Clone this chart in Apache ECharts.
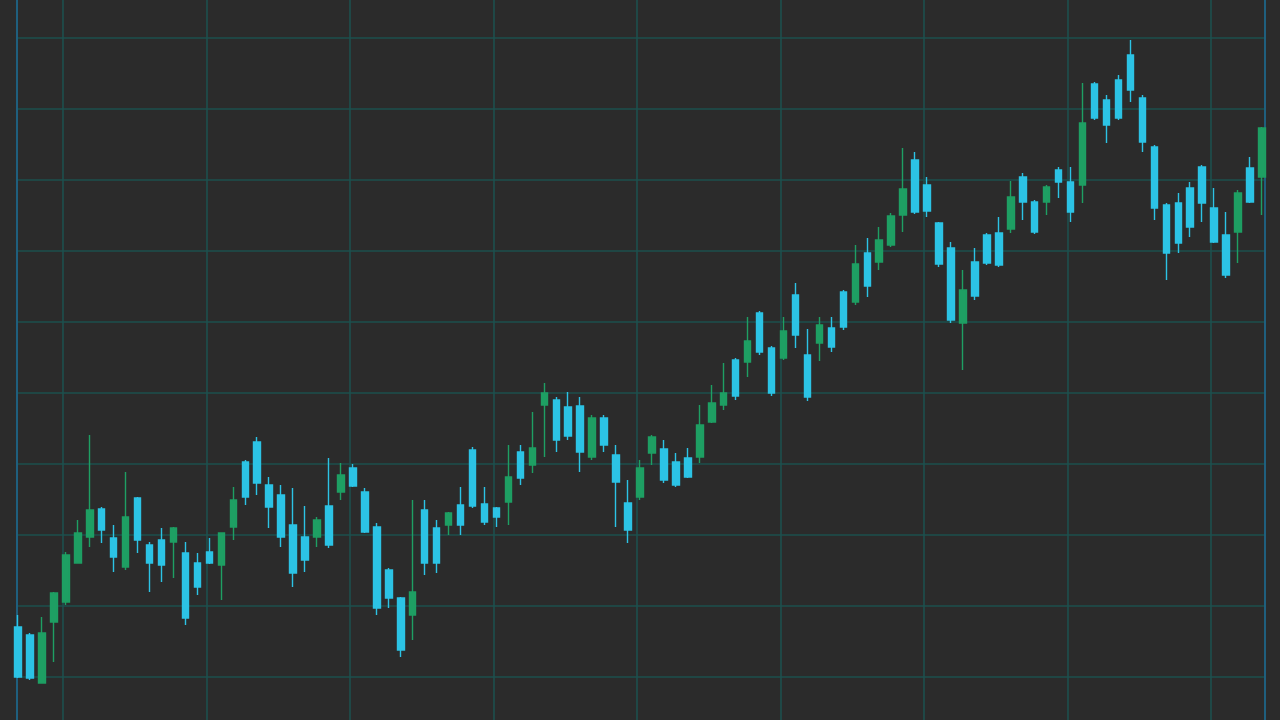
<!DOCTYPE html>
<html>
<head>
<meta charset="utf-8">
<style>
  html, body { margin: 0; padding: 0; background: #2b2b2b; }
  #chart { width: 1280px; height: 720px; }
</style>
<script src="https://cdn.jsdelivr.net/npm/echarts@6/dist/echarts.min.js"></script>
</head>
<body>
<div id="chart"></div>
<script>
// ---- data ----
const opens = [
  12.1, 11.3, 6.5, 12.6, 14.6, 18.5, 21.1, 23.9, 21.0, 18.1,
  25.0, 20.3, 20.8, 20.6, 19.5, 18.5, 19.6, 18.3, 22.1, 28.6,
  30.6, 26.3, 25.3, 22.3, 21.1, 21.1, 24.2, 25.6, 28.0, 25.6,
  22.1, 17.8, 15.0, 13.3, 23.8, 22.0, 22.3, 24.3, 29.8, 24.4,
  24.0, 24.6, 29.6, 28.3, 34.3, 34.8, 34.1, 34.2, 29.1, 33.0,
  29.3, 24.5, 25.1, 29.5, 29.9, 28.6, 29.0, 29.1, 32.6, 34.3,
  38.8, 38.6, 43.5, 40.0, 39.0, 45.3, 39.3, 40.5, 42.0, 45.6,
  44.6, 49.5, 48.6, 50.3, 53.3, 58.8, 56.3, 52.5, 50.0, 42.5,
  48.6, 51.3, 51.5, 51.9, 57.1, 54.6, 54.6, 57.8, 56.6, 56.3,
  66.4, 64.8, 66.8, 69.3, 65.0, 60.1, 54.3, 54.5, 56.0, 58.1,
  54.0, 51.3, 51.6, 58.0, 57.1
];
const closes = [
  7.1, 7.0, 11.5, 15.5, 19.3, 21.5, 23.8, 21.8, 19.1, 23.1,
  20.8, 18.5, 18.3, 22.0, 13.0, 16.1, 18.5, 21.5, 24.8, 25.1,
  26.5, 24.1, 21.1, 17.5, 18.8, 22.8, 20.3, 27.3, 26.2, 21.6,
  14.0, 15.0, 9.8, 15.6, 18.5, 18.5, 23.5, 22.3, 24.2, 22.6,
  23.1, 27.1, 27.0, 30.0, 35.5, 30.8, 31.2, 29.6, 33.0, 30.3,
  26.6, 21.8, 28.0, 31.1, 26.8, 26.3, 27.1, 32.3, 34.5, 35.5,
  35.2, 40.7, 39.6, 35.5, 41.7, 41.3, 35.1, 42.3, 40.1, 42.1,
  48.4, 46.2, 50.8, 53.2, 55.9, 53.6, 53.7, 48.4, 42.8, 45.8,
  45.2, 48.5, 48.3, 55.1, 54.6, 51.6, 56.1, 56.6, 53.6, 62.5,
  63.0, 62.3, 63.0, 65.8, 60.6, 54.0, 49.5, 50.5, 52.1, 54.5,
  50.6, 47.3, 55.5, 54.6, 62.0
];
const lows = [
  7.0, 6.8, 6.5, 8.6, 14.3, 18.5, 20.1, 20.5, 17.6, 17.8,
  19.5, 15.6, 16.6, 17.0, 12.3, 15.3, 18.4, 14.8, 20.8, 24.3,
  25.3, 22.0, 20.1, 16.1, 17.6, 20.1, 20.0, 24.8, 26.1, 21.5,
  13.3, 14.0, 9.1, 10.8, 17.3, 17.5, 21.3, 21.3, 24.0, 22.3,
  22.1, 22.3, 26.3, 27.5, 29.1, 29.6, 30.8, 27.6, 28.8, 29.6,
  22.1, 20.5, 24.8, 28.3, 26.5, 26.1, 27.0, 28.5, 32.5, 33.8,
  34.8, 37.1, 39.3, 35.2, 38.8, 40.0, 34.7, 38.7, 39.6, 41.8,
  44.3, 45.1, 47.8, 50.1, 51.6, 53.4, 53.1, 48.1, 42.5, 37.8,
  44.8, 48.3, 48.1, 51.5, 52.8, 51.4, 53.3, 55.0, 52.6, 54.5,
  62.8, 60.5, 62.8, 64.6, 59.6, 52.8, 46.8, 49.5, 51.1, 52.6,
  50.5, 47.0, 48.5, 54.5, 53.3
];
const highs = [
  13.3, 11.5, 13.1, 15.6, 19.6, 22.8, 31.3, 24.1, 22.3, 27.6,
  25.1, 20.6, 22.0, 22.1, 20.6, 19.5, 21.0, 21.5, 26.1, 28.8,
  31.1, 27.1, 26.3, 26.0, 24.2, 23.1, 29.0, 28.5, 28.4, 26.0,
  22.5, 18.0, 15.1, 24.8, 24.8, 22.8, 23.6, 26.1, 30.1, 26.1,
  24.1, 30.3, 30.3, 33.6, 36.5, 35.1, 35.6, 35.1, 33.3, 33.3,
  30.3, 26.8, 28.8, 31.3, 30.8, 29.5, 30.0, 34.3, 36.3, 38.5,
  39.0, 43.1, 43.7, 40.2, 43.1, 46.5, 41.9, 43.1, 43.1, 45.8,
  50.3, 51.0, 52.1, 53.5, 60.0, 59.6, 57.1, 52.6, 50.6, 47.8,
  50.0, 51.5, 53.1, 56.7, 57.5, 54.8, 56.3, 58.1, 58.1, 66.5,
  66.6, 65.3, 67.3, 70.8, 65.3, 60.3, 54.5, 55.5, 56.6, 58.3,
  56.0, 53.6, 55.8, 59.1, 62.1
];
const days = opens.map((_, i) => 'D' + (i + 1));

// ---- chart ----
const candleData = opens.map((o, i) => [o, closes[i], lows[i], highs[i]]);

const gridLine = '#1d504e';
const borderLine = '#1f5f7e';
const hidden = { axisLine: { show: false }, axisTick: { show: false }, axisLabel: { show: false } };

const chart = echarts.init(document.getElementById('chart'), null, { renderer: 'canvas' });
chart.setOption({
  animation: false,
  backgroundColor: '#2b2b2b',
  grid: [
    { left: 17, right: 15, top: 38, bottom: 43 },   // horizontal grid lines
    { left: 63, right: 69, top: 0, bottom: 0 },     // vertical grid lines
    { left: 17, right: 15, top: 0, bottom: 0 },     // left / right borders
    { left: 18, right: 18, top: 38, bottom: 43 }    // candles
  ],
  xAxis: [
    { gridIndex: 0, type: 'value', min: 0, max: 1, show: false },
    Object.assign({
      gridIndex: 1, type: 'value', min: 0, max: 8, interval: 1,
      splitLine: { show: true, lineStyle: { color: gridLine, width: 1.6 } }
    }, hidden),
    { gridIndex: 2, type: 'value', min: 0, max: 1, show: false },
    Object.assign({
      gridIndex: 3, type: 'category', data: days, boundaryGap: false,
      splitLine: { show: false }
    }, hidden)
  ],
  yAxis: [
    Object.assign({
      gridIndex: 0, type: 'value', min: 7.1, max: 71, interval: 7.1,
      splitLine: { show: true, lineStyle: { color: gridLine, width: 1.6 } }
    }, hidden),
    { gridIndex: 1, type: 'value', min: 0, max: 1, show: false },
    {
      gridIndex: 2, type: 'value', min: 0, max: 1, position: 'left',
      axisLine: { show: true, onZero: false, lineStyle: { color: borderLine, width: 2 } },
      axisTick: { show: false }, axisLabel: { show: false }, splitLine: { show: false }
    },
    {
      gridIndex: 2, type: 'value', min: 0, max: 1, position: 'right',
      axisLine: { show: true, onZero: false, lineStyle: { color: borderLine, width: 2 } },
      axisTick: { show: false }, axisLabel: { show: false }, splitLine: { show: false }
    },
    Object.assign({
      gridIndex: 3, type: 'value', min: 7.1, max: 71, interval: 7.1,
      splitLine: { show: false }
    }, hidden)
  ],
  series: [{
    type: 'candlestick',
    xAxisIndex: 3,
    yAxisIndex: 4,
    data: candleData,
    barWidth: 7,
    clip: false,
    itemStyle: {
      color: '#1e9f63',
      color0: '#2cc3e5',
      borderColor: '#1e9f63',
      borderColor0: '#2cc3e5',
      borderWidth: 1.4
    }
  }]
});
</script>
</body>
</html>
